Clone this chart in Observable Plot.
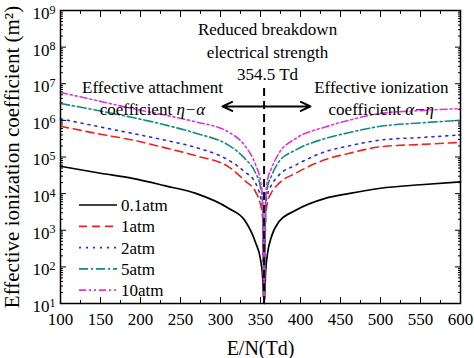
<!DOCTYPE html>
<html><head><meta charset="utf-8">
<script src="https://cdn.jsdelivr.net/npm/d3@7"></script>
<script src="https://cdn.jsdelivr.net/npm/@observablehq/plot@0.6"></script>
<style>
body{margin:0;background:#fff}
#chart{width:474px;height:358px}
#chart svg, #chart svg text, #chart svg tspan { font-family: "Liberation Serif", "DejaVu Serif", serif !important; }
</style>
</head><body><div id="chart"></div>
<script>
// ---- data ----
const reducedField = [100, 150, 190, 230, 270, 310, 330, 344, 350, 352.5, 354.5, 356.5, 359, 363, 373, 394, 431, 460, 500, 550, 600];
const seriesNames = ["0.1atm", "1atm", "2atm", "5atm", "10atm"];
const coef01atm = [5.6e4, 3.6e4, 2.6e4, 1.65e4, 1e4, 4e3, 1.9e3, 4.5e2, 1.6e2, 60, 10, 80, 2.5e2, 6e2, 1.7e3, 3.5e3, 7.4e3, 1e4, 1.4e4, 1.75e4, 2.1e4];
const coef1atm  = [6.9e5, 4.2e5, 2.9e5, 1.8e5, 1.07e5, 5.4e4, 2.3e4, 1.1e4, 5e3, 2.5e3, 10, 2.5e3, 6e3, 1e4, 1.9e4, 3.6e4, 8.5e4, 1.25e5, 1.9e5, 2.2e5, 2.5e5];
const coef2atm  = [1.1e6, 6.6e5, 4.4e5, 2.9e5, 1.8e5, 8.2e4, 4e4, 1.9e4, 8e3, 4e3, 10, 4e3, 1e4, 1.6e4, 3.2e4, 6e4, 1.4e5, 2e5, 2.9e5, 3.4e5, 4e5];
const coef5atm  = [2.9e6, 1.8e6, 1.2e6, 7.6e5, 4.4e5, 2.1e5, 9.3e4, 3.6e4, 1.5e4, 6e3, 10, 6e3, 1.6e4, 2.8e4, 7.4e4, 1.55e5, 3.2e5, 4.6e5, 6.9e5, 8.5e5, 1e6];
const coef10atm = [5.8e6, 3.3e6, 2.1e6, 1.4e6, 9e5, 4.8e5, 2.1e5, 6e4, 2.2e4, 8e3, 10, 8e3, 2.5e4, 4.5e4, 1.26e5, 3.2e5, 6.6e5, 1e6, 1.55e6, 1.85e6, 2.1e6];
const xTickValues = [100, 150, 200, 250, 300, 350, 400, 450, 500, 550, 600];
const yTickValues = [1e1, 1e2, 1e3, 1e4, 1e5, 1e6, 1e7, 1e8, 1e9];
const breakdownTd = 354.5;
const annTop = "Reduced breakdown\nelectrical strength\n354.5 Td";
const annLeft = "Effective attachment\ncoefficient η−α";
const annRight = "Effective ionization\ncoefficient α−η";
const xTitle = "E/N(Td)";
const yTitle = "Effective ionization coefficient (m²)";

// ---- styles / layout ----
const FONT = "Liberation Serif, DejaVu Serif, serif";
const colors = ["#000000", "#ee2222", "#2a2ad6", "#138a7e", "#e031e0"];
const dashes = [null, "8,5", "2,5", "9,3,2,3", "7,3,2,3,2,3"];
const allSeries = [coef01atm, coef1atm, coef2atm, coef5atm, coef10atm];

const xMinor = d3.range(125, 600, 50);
const yMinor = [];
for (let e = 1; e < 9; e++) for (let m = 2; m <= 9; m++) yMinor.push(m * Math.pow(10, e));

const lineMarks = allSeries.map((vals, i) => Plot.line(
  reducedField.map((x, j) => ({x, y: vals[j]})),
  {x: "x", y: "y", stroke: colors[i], strokeWidth: i === 0 ? 1.7 : 1.6,
   strokeDasharray: dashes[i], curve: "monotone-x"}));

const empty = () => "";
const chart = Plot.plot({
  width: 474, height: 358,
  marginLeft: 60, marginRight: 14, marginTop: 10, marginBottom: 55,
  style: {fontFamily: FONT, background: "white", color: "black"},
  x: {domain: [100, 600]},
  y: {type: "log", domain: [10, 1e9]},
  marks: [
    Plot.axisX({anchor: "bottom", ticks: xTickValues, tickSize: 0, tickPadding: 9, fontSize: 17, label: null, tickFormat: d => String(d)}),
    Plot.axisX({anchor: "bottom", ticks: xTickValues, tickSize: 6, dy: -6, tickFormat: empty, label: null}),
    Plot.axisX({anchor: "bottom", ticks: xMinor, tickSize: 3, dy: -3, tickFormat: empty, label: null}),
    Plot.axisX({anchor: "top", ticks: xTickValues, tickSize: 6, dy: 6, tickFormat: empty, label: null}),
    Plot.axisX({anchor: "top", ticks: xMinor, tickSize: 3, dy: 3, tickFormat: empty, label: null}),
    Plot.axisY({anchor: "left", ticks: yTickValues, tickSize: 0, tickPadding: 5, dy: 3, fontSize: 17, label: null,
      tickFormat: d => `10^${Math.round(Math.log10(d))}`}),
    Plot.axisY({anchor: "left", ticks: yTickValues, tickSize: 6, dx: 6, tickFormat: empty, label: null}),
    Plot.axisY({anchor: "left", ticks: yMinor, tickSize: 3, dx: 3, tickFormat: empty, label: null}),
    Plot.axisY({anchor: "right", ticks: yTickValues, tickSize: 6, dx: -6, tickFormat: empty, label: null}),
    Plot.axisY({anchor: "right", ticks: yMinor, tickSize: 3, dx: -3, tickFormat: empty, label: null}),
    ...lineMarks,
    Plot.ruleX([breakdownTd], {y1: 7.4e6, y2: 10, stroke: "black", strokeWidth: 2, strokeDasharray: "8,5"}),
    Plot.arrow([{x1: breakdownTd, x2: 302.5}, {x1: breakdownTd, x2: 412.5}],
      {x1: "x1", x2: "x2", y1: 2.4e6, y2: 2.4e6, stroke: "black", strokeWidth: 2, headLength: 8, headAngle: 50}),
    Plot.text([annTop], {x: 358.75, y: 8.1e7, fontSize: 17, lineHeight: 1.3}),
    Plot.text([annLeft], {x: 215, y: 4.3e6, fontSize: 17, lineHeight: 1.3}),
    Plot.text([annRight], {x: 501, y: 4.3e6, fontSize: 17, lineHeight: 1.3}),
    Plot.text([yTitle], {frameAnchor: "left", dx: -48, rotate: -90, fontSize: 21, textAnchor: "middle", lineAnchor: "middle"}),
    Plot.text([xTitle], {frameAnchor: "bottom", dy: 45, fontSize: 20, textAnchor: "middle", lineAnchor: "middle"}),
    Plot.frame({stroke: "black", strokeWidth: 1.5})
  ]
});

const svg = d3.select(chart);
svg.attr("font-family", FONT);
// superscript exponents on y tick labels
svg.selectAll('g[aria-label="y-axis tick label"] text').each(function () {
  const t = this.textContent;
  if (!t.includes("^")) return;
  const [b, e] = t.split("^");
  const s = d3.select(this);
  s.text(b);
  s.append("tspan").attr("dy", "-0.45em").attr("font-size", "12px").text(e);
});
// italic greek
svg.selectAll("text tspan").each(function () {
  const t = this.textContent;
  const m = t.match(/^coefficient (.+)$/);
  if (!m) return;
  const s = d3.select(this);
  s.text("coefficient ");
  s.append("tspan").attr("font-style", "italic").text(m[1]);
});

// legend (inside plot, lower-left)
const lg = svg.append("g").attr("font-size", 17).attr("text-anchor", "start");
seriesNames.forEach((name, i) => {
  const y = 205 + i * 21.3;
  lg.append("line").attr("x1", 79).attr("x2", 117).attr("y1", y).attr("y2", y)
    .attr("stroke", colors[i]).attr("stroke-width", 1.7)
    .attr("stroke-dasharray", dashes[i] || null);
  lg.append("text").attr("x", 121).attr("y", y).attr("dy", "0.35em").attr("fill", "black").text(name);
});

document.getElementById("chart").appendChild(chart);
</script>
</body></html>
